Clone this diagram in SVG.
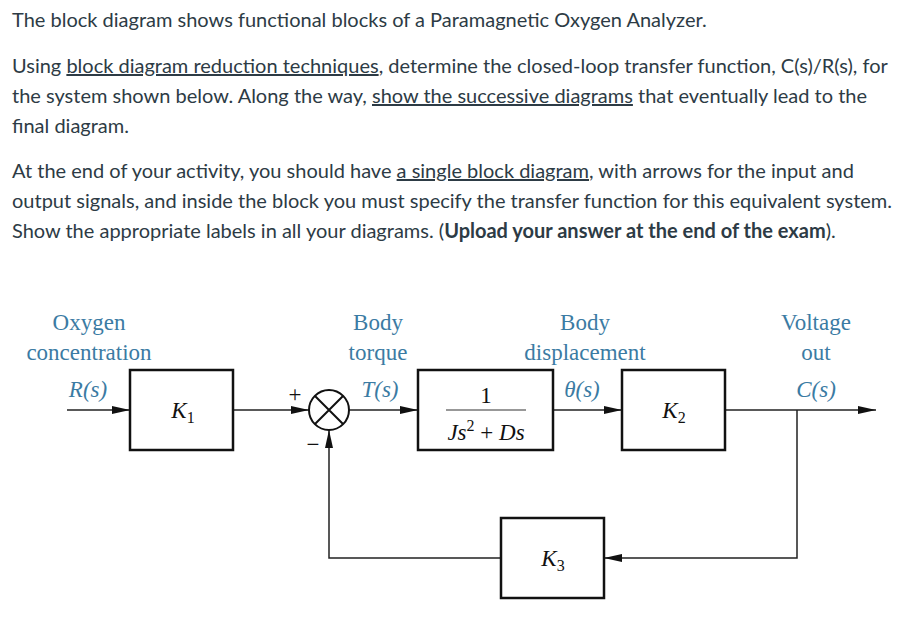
<svg xmlns="http://www.w3.org/2000/svg" width="900" height="633" viewBox="0 0 900 633">
<defs>
<style>
.p{font-family:Lato,"Open Sans",sans-serif;font-size:20px;fill:#2d3b45}
.b{font-weight:bold}
.u{text-decoration:underline}
.lab{font-family:"Liberation Serif",serif;font-size:23px;fill:#3b7ba3;text-anchor:middle}
.m{font-family:"Liberation Serif",serif;font-size:23px;fill:#111;text-anchor:middle}
.box{fill:#fff;stroke:#111;stroke-width:2.5}
.ln{fill:none;stroke:#222;stroke-width:1.5}
</style>
<marker id="a" viewBox="0 0 18 10" refX="18" refY="5" markerWidth="18" markerHeight="10" orient="auto" markerUnits="userSpaceOnUse"><path d="M0,1L18,5L0,9z" fill="#111"/></marker>
</defs>
<rect width="900" height="633" fill="#fff"/>
<g id="text">
<text class="p" x="12" y="27">The block diagram shows functional blocks of a Paramagnetic Oxygen Analyzer.</text>
<text class="p" x="12" y="73">Using <tspan class="u">block diagram reduction techniques</tspan>, determine the closed-loop transfer function, C(s)/R(s), for</text>
<text class="p" x="12" y="103">the system shown below. Along the way, <tspan class="u">show the successive diagrams</tspan> that eventually lead to the</text>
<text class="p" x="12" y="133">final diagram.</text>
<text class="p" x="12" y="178">At the end of your activity, you should have <tspan class="u">a single block diagram</tspan>, with arrows for the input and</text>
<text class="p" x="12" y="208">output signals, and inside the block you must specify the transfer function for this equivalent system.</text>
<text class="p" x="12" y="238">Show the appropriate labels in all your diagrams.  (<tspan class="b">Upload your answer at the end of the exam</tspan>).</text>
</g>
<g id="connectors">
<path class="ln" d="M67,410H130" marker-end="url(#a)"/>
<path class="ln" d="M233,410H309" marker-end="url(#a)"/>
<path class="ln" d="M349,410H418" marker-end="url(#a)"/>
<path class="ln" d="M553,410H622" marker-end="url(#a)"/>
<path class="ln" d="M725,410H876" marker-end="url(#a)"/>
<path class="ln" d="M797,410V558H604" marker-end="url(#a)"/>
<path class="ln" d="M501,558H329V430" marker-end="url(#a)"/>
</g>
<g id="labels">
<text class="lab" x="89" y="330">Oxygen</text>
<text class="lab" x="89" y="360">concentration</text>
<text class="lab" x="88" y="397" font-style="italic">R(s)</text>
<text class="lab" x="378" y="330">Body</text>
<text class="lab" x="378" y="360">torque</text>
<text class="lab" x="380" y="397" font-style="italic">T(s)</text>
<text class="lab" x="585" y="330">Body</text>
<text class="lab" x="585" y="360">displacement</text>
<text class="lab" x="582" y="397" font-style="italic">θ(s)</text>
<text class="lab" x="816" y="330">Voltage</text>
<text class="lab" x="816" y="360">out</text>
<text class="lab" x="816" y="397" font-style="italic">C(s)</text>
<text class="m" x="295" y="402" font-size="20">+</text>
<text class="m" x="313" y="452" font-size="20">−</text>
</g>
<g id="K1"><rect class="box" x="130" y="370" width="103" height="80"/><text class="m" x="183" y="418"><tspan font-style="italic">K</tspan><tspan font-size="16" dy="5">1</tspan></text></g>
<g id="sum"><circle cx="329" cy="410" r="20" fill="#fff" stroke="#111" stroke-width="2"/><path d="M315,396L343,424M343,396L315,424" stroke="#111" stroke-width="2"/></g>
<g id="G"><rect class="box" x="418" y="370" width="135" height="80"/><text class="m" x="486" y="403">1</text><path d="M446,410H526" stroke="#333" stroke-width="1.2"/><text class="m" x="486" y="440" font-style="italic">Js<tspan font-style="normal" font-size="16" dy="-9">2</tspan><tspan dy="9" font-style="normal"> + </tspan>Ds</text></g>
<g id="K2"><rect class="box" x="622" y="370" width="103" height="80"/><text class="m" x="674" y="418"><tspan font-style="italic">K</tspan><tspan font-size="16" dy="5">2</tspan></text></g>
<g id="K3"><rect class="box" x="501" y="518" width="103" height="80"/><text class="m" x="553" y="566"><tspan font-style="italic">K</tspan><tspan font-size="16" dy="5">3</tspan></text></g>
</svg>
